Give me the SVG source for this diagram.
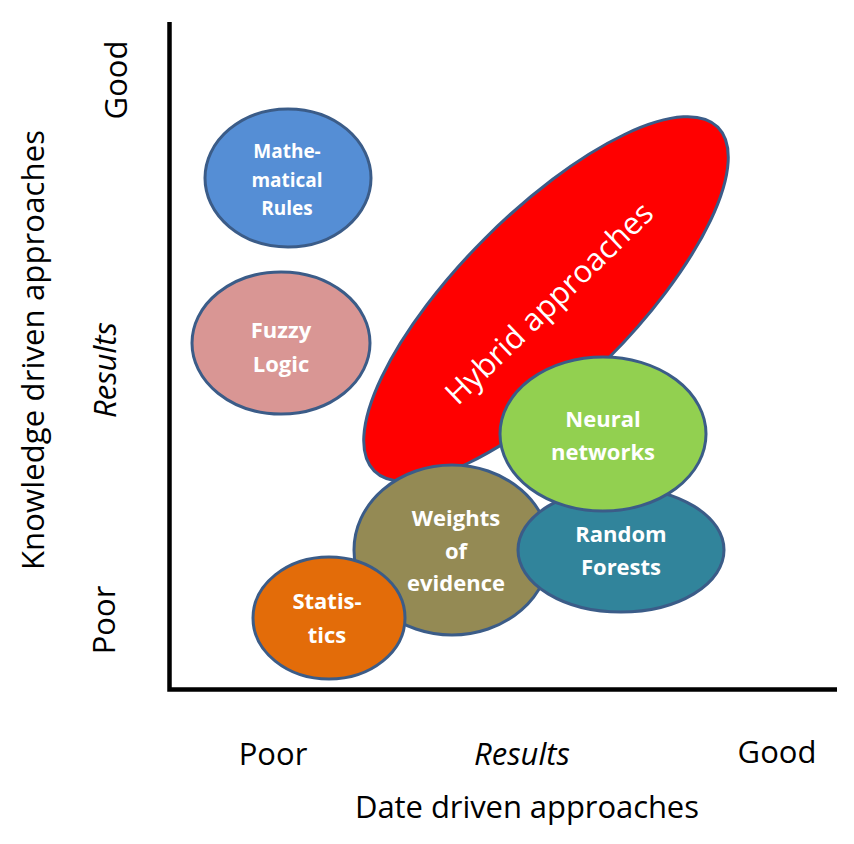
<svg xmlns="http://www.w3.org/2000/svg" width="854" height="844" viewBox="0 0 854 844">
<style>
.node ellipse{stroke:#3B5C88;stroke-width:3}
.lbl{font-family:"Open Sans","Noto Sans",sans-serif;font-weight:bold;fill:#fff;text-anchor:middle}
.ax{font-family:"Open Sans","Noto Sans",sans-serif;font-size:31px;fill:#000;text-anchor:middle}
.it{font-style:italic}
</style>
<rect width="854" height="844" fill="#fff"/>
<g id="axes">
<path d="M169.5,22 V689.5 H837" fill="none" stroke="#000" stroke-width="4.5"/>
</g>
<g id="axis-labels">
<text class="ax" transform="translate(127,80) rotate(-90)">Good</text>
<text class="ax it" transform="translate(116,370) rotate(-90)">Results</text>
<text class="ax" transform="translate(115,620) rotate(-90)">Poor</text>
<text class="ax" transform="translate(44,350) rotate(-90)" textLength="440">Knowledge driven approaches</text>
<text class="ax" x="273" y="765">Poor</text>
<text class="ax it" x="522" y="765">Results</text>
<text class="ax" x="777" y="763">Good</text>
<text class="ax" x="527" y="818" textLength="344">Date driven approaches</text>
</g>
<g id="mathematical-rules" class="node">
<ellipse cx="288" cy="178" rx="83" ry="69" fill="#558ED5"/>
<text class="lbl" font-size="19" x="287" y="158">Mathe-</text>
<text class="lbl" font-size="19" x="287" y="187">matical</text>
<text class="lbl" font-size="19" x="287" y="215">Rules</text>
</g>
<g id="fuzzy-logic" class="node">
<ellipse cx="281" cy="343" rx="89" ry="71" fill="#D99694"/>
<text class="lbl" font-size="22" x="281" y="338">Fuzzy</text>
<text class="lbl" font-size="22" x="281" y="372">Logic</text>
</g>
<g id="hybrid-approaches" class="node">
<ellipse cx="0" cy="0" rx="243" ry="86" transform="translate(546,299) rotate(-45)" fill="#FF0000"/>
<text transform="translate(549,303) rotate(-44)" y="11" font-family="'Open Sans','Noto Sans',sans-serif" font-size="31" fill="#fff" text-anchor="middle">Hybrid approaches</text>
</g>
<g id="weights-of-evidence" class="node">
<ellipse cx="452" cy="550" rx="98" ry="85" fill="#948A54"/>
<text class="lbl" font-size="22" x="456" y="526">Weights</text>
<text class="lbl" font-size="22" x="456" y="559">of</text>
<text class="lbl" font-size="22" x="456" y="591">evidence</text>
</g>
<g id="statistics" class="node">
<ellipse cx="329" cy="618" rx="76" ry="61" fill="#E36C09"/>
<text class="lbl" font-size="22" x="327" y="609">Statis-</text>
<text class="lbl" font-size="22" x="327" y="643">tics</text>
</g>
<g id="random-forests" class="node">
<ellipse cx="621" cy="550" rx="103" ry="62" fill="#31849B"/>
<text class="lbl" font-size="22" x="621" y="542">Random</text>
<text class="lbl" font-size="22" x="621" y="575">Forests</text>
</g>
<g id="neural-networks" class="node">
<ellipse cx="603" cy="434" rx="103" ry="77" fill="#92D050"/>
<text class="lbl" font-size="22" x="603" y="427">Neural</text>
<text class="lbl" font-size="22" x="603" y="460">networks</text>
</g>
</svg>
